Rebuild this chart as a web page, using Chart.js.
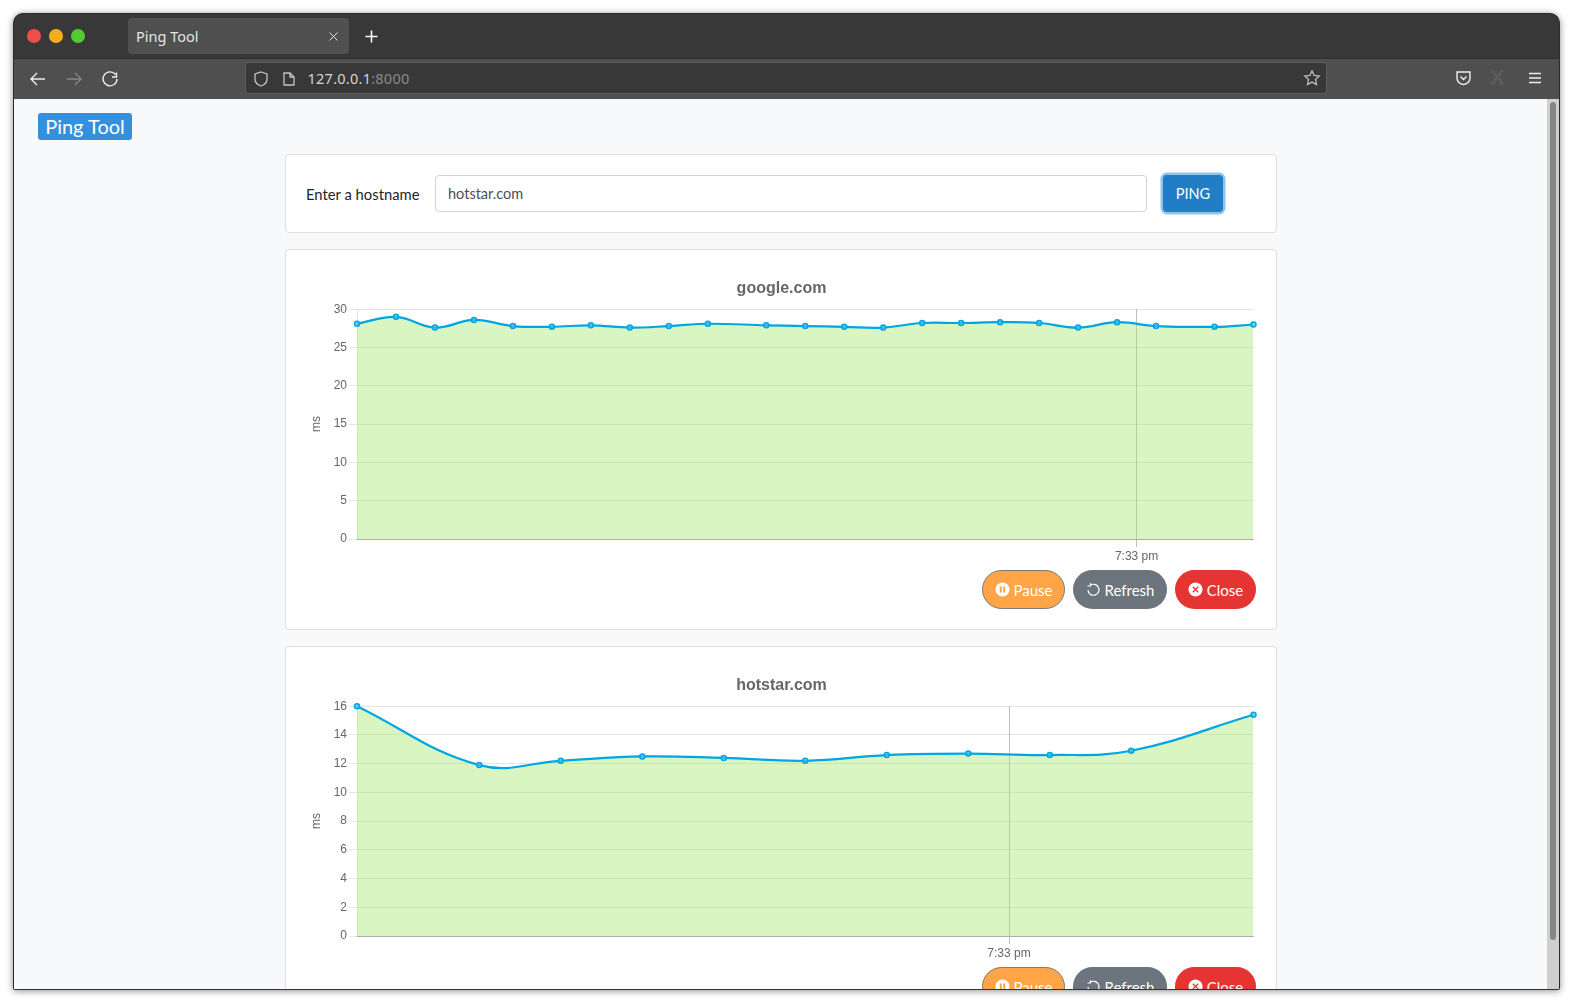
<!DOCTYPE html>
<html><head><meta charset="utf-8"><title>Ping Tool</title>
<script src="https://cdn.jsdelivr.net/npm/chart.js@4"></script>
<style>
html,body{margin:0;padding:0;width:1573px;height:1003px;overflow:hidden;background:#fff;font-family:Lato,"Noto Sans",sans-serif}
.abs,.abs *{box-sizing:border-box}
.abs{position:absolute}
#win{left:13px;top:13px;width:1547px;height:977px;border-radius:10px 10px 2px 2px;background:#383838;box-shadow:0 1px 7px rgba(0,0,0,.45);overflow:hidden;border:1px solid #2b2b2b;border-bottom:1px solid #333}
.dot{width:14px;height:14px;border-radius:50%}
.ui{font-family:"Noto Sans",sans-serif}
#content{left:14px;top:99px;width:1545px;height:890px;overflow:hidden;background:#f8f9fb}
#inner{left:-14px;top:-99px;width:1573px;height:1200px}
.card{background:#fff;border:1px solid #dfdfe1;border-radius:4px;left:285px;width:992px}
.btn{height:39px;border-radius:20px;color:#fff;font-size:15px;display:flex;align-items:center;justify-content:center;gap:4px}
.btn svg{flex:none}
canvas{position:absolute;display:block}
</style></head><body>
<div class="abs" id="win"></div>
<div class="abs" style="left:14px;top:58px;width:1545px;height:41px;background:#4f4f4f;border-top:1px solid #2d2d2d"></div>
<div class="abs dot" style="left:27px;top:29px;background:#ee5047"></div>
<div class="abs dot" style="left:49px;top:29px;background:#f2ae1c"></div>
<div class="abs dot" style="left:71px;top:29px;background:#55cb33"></div>
<div class="abs" style="left:128px;top:18px;width:221px;height:36px;border-radius:4px;background:#505050"></div>
<div class="abs ui" style="left:136px;top:26px;color:#e4e4e4;font-size:14.5px;line-height:20px">Ping Tool</div>
<svg class="abs" style="left:327.500px;top:31px" width="11" height="11"><path d="M1.500 1.500l8 8M9.500 1.500l-8 8" stroke="#ddd" stroke-width="1"/></svg>
<svg class="abs" style="left:364px;top:29px" width="15" height="15"><path d="M7.500 1.500v12M1.500 7.500h12" stroke="#fff" stroke-width="1.600"/></svg>
<svg class="abs" style="left:28px;top:69px" width="20" height="20" fill="none" stroke="#eee" stroke-width="1.400"><path d="M3 10h14M9 4l-6 6 6 6"/></svg>
<svg class="abs" style="left:64px;top:69px" width="20" height="20" fill="none" stroke="#858585" stroke-width="1.400"><path d="M3 10h14M11 4l6 6-6 6"/></svg>
<svg class="abs" style="left:100px;top:69px" width="20" height="20" fill="none" stroke="#eee" stroke-width="1.400"><path d="M15.500 5.500A7 7 0 1 0 17 10M16.500 3.500v4.500h-4.500"/></svg>
<div class="abs" style="left:245px;top:62px;width:1082px;height:32px;border-radius:3px;background:#383838;border:1px solid #5e5e5e"></div>
<svg class="abs" style="left:252px;top:70px" width="18" height="18" fill="none" stroke="#c4c4c4" stroke-width="1.300"><path d="M9 2l6 2v5c0 4-3 6-6 7-3-1-6-3-6-7V4z"/></svg>
<svg class="abs" style="left:282px;top:71px" width="14" height="16" fill="none" stroke="#c4c4c4" stroke-width="1.300"><path d="M2 2h6l4 4v8H2zM8 2v4h4"/></svg>
<div class="abs ui" style="left:307.500px;top:68px;font-size:14.500px;line-height:20px;color:#d4d4d4;letter-spacing:.25px">127.0.0.1<span style="color:#8a8a8a">:8000</span></div>
<svg class="abs" style="left:1303px;top:69px" width="18" height="18" fill="none" stroke="#bdbdbd" stroke-width="1.300"><path d="M9 1.800l2.200 4.700 5 .6-3.700 3.500 1 5L9 13.100l-4.500 2.500 1-5L1.800 7.100l5-.6z"/></svg>
<svg class="abs" style="left:1455px;top:70px" width="17" height="16" fill="none" stroke="#eee" stroke-width="1.400"><path d="M2 2h13v6a6.500 6.500 0 0 1-13 0zM5.500 6.500L8.500 9.500l3-3"/></svg>
<div class="abs" style="left:1490px;top:64px;color:#5c5c5c;font-size:22px;line-height:28px;font-family:'Liberation Sans';font-weight:bold">X</div>
<svg class="abs" style="left:1528px;top:72px" width="14" height="12" stroke="#eee" stroke-width="1.300"><path d="M1 1.500h12M1 6h12M1 10.500h12"/></svg>

<div class="abs" id="content"><div class="abs" id="inner">
  <div class="abs" style="left:38px;top:113px;width:94px;height:27px;border-radius:3px;background:#3490dc;color:#fff;font-size:20px;line-height:26px;text-align:center">Ping Tool</div>

  <div class="abs card" style="top:154px;height:79px"></div>
  <div class="abs" style="left:306px;top:183.500px;font-size:14.800px;line-height:20px;color:#212529">Enter a hostname</div>
  <div class="abs" style="left:435px;top:175px;width:712px;height:37px;background:#fff;border:1px solid #ced4da;border-radius:4px;color:#495057;font-size:14.500px;line-height:36px;padding-left:12px">hotstar.com</div>
  <div class="abs" style="left:1163px;top:175px;width:60px;height:37px;border-radius:4px;background:#227dc7;box-shadow:0 0 0 2.500px #8fc3ec;color:#fff;font-size:14.500px;line-height:37px;text-align:center">PING</div>

  <div class="abs card" style="top:249px;height:381px"></div>
  <canvas id="chartA" style="left:308px;top:271px"></canvas>
  <div class="abs btn" style="left:982px;top:570px;width:83px;background:#ffa447;border:1px solid #7b7b6f"><svg width="15" height="15"><circle cx="7.500" cy="7.500" r="7" fill="#fff"/><path d="M5.800 4.500v6M9.200 4.500v6" stroke="#ffa447" stroke-width="2"/></svg>Pause</div>
  <div class="abs btn" style="left:1073px;top:570px;width:94px;background:#6c757d"><svg width="15" height="15" fill="none" stroke="#fff" stroke-width="1.200"><path d="M4 3.500A5.500 5.500 0 1 1 2 8M4.500 1v3H1.500"/></svg>Refresh</div>
  <div class="abs btn" style="left:1175px;top:570px;width:81px;background:#e53431"><svg width="15" height="15"><circle cx="7.500" cy="7.500" r="7" fill="#fff"/><path d="M4.800 4.800l5.400 5.400M10.200 4.800l-5.400 5.400" stroke="#e53431" stroke-width="1.300"/></svg>Close</div>

  <div class="abs card" style="top:646px;height:400px"></div>
  <canvas id="chartB" style="left:308px;top:668px"></canvas>
  <div class="abs btn" style="left:982px;top:967px;width:83px;background:#ffa447;border:1px solid #7b7b6f"><svg width="15" height="15"><circle cx="7.500" cy="7.500" r="7" fill="#fff"/><path d="M5.800 4.500v6M9.200 4.500v6" stroke="#ffa447" stroke-width="2"/></svg>Pause</div>
  <div class="abs btn" style="left:1073px;top:967px;width:94px;background:#6c757d"><svg width="15" height="15" fill="none" stroke="#fff" stroke-width="1.200"><path d="M4 3.500A5.500 5.500 0 1 1 2 8M4.500 1v3H1.500"/></svg>Refresh</div>
  <div class="abs btn" style="left:1175px;top:967px;width:81px;background:#e53431"><svg width="15" height="15"><circle cx="7.500" cy="7.500" r="7" fill="#fff"/><path d="M4.800 4.800l5.400 5.400M10.200 4.800l-5.400 5.400" stroke="#e53431" stroke-width="1.300"/></svg>Close</div>
</div></div>
<div class="abs" style="left:1547px;top:99px;width:12px;height:890px;background:#cfcfcf"></div>
<div class="abs" style="left:1550px;top:102px;width:6px;height:838px;border-radius:3px;background:#858787"></div>

<script>
const googleSeconds = [0,5,10,15,20,25,30,35,40,45,52.5,57.5,62.5,67.5,72.5,77.5,82.5,87.5,92.5,97.5,102.5,110,115];
const googleMs = [28.1,29.0,27.6,28.6,27.8,27.7,27.9,27.6,27.8,28.1,27.9,27.8,27.7,27.6,28.2,28.2,28.3,28.2,27.6,28.3,27.8,27.7,28.0];
const hotstarSeconds = [0,15,25,35,45,55,65,75,85,95,110];
const hotstarMs = [16.0,11.9,12.2,12.5,12.4,12.2,12.6,12.7,12.6,12.9,15.4];
const googleTickSecond = 100;
const hotstarTickSecond = 80;
const timeLabel = '7:33 pm';
const axisUnit = 'ms';

Chart.defaults.font.family = '"Liberation Sans", Arial, sans-serif';
Chart.defaults.font.size = 12;
Chart.defaults.color = '#666';
Chart.defaults.animation = false;

function pingChart(id, title, xs, ys, tickAt, yMax, yStep) {
  new Chart(document.getElementById(id), {
    type: 'line',
    data: { datasets: [{
      data: xs.map((x, i) => ({ x, y: ys[i] })),
      borderColor: '#00a5e3', borderWidth: 2.2,
      backgroundColor: 'rgba(160,230,100,0.4)', fill: 'origin',
      tension: 0.4, clip: false,
      pointRadius: 2.5, pointBorderWidth: 1.5,
      pointBackgroundColor: 'rgba(80,195,240,0.7)', pointBorderColor: '#00a5e3'
    }]},
    options: {
      responsive: false, devicePixelRatio: 1,
      layout: { padding: { right: 4, left: 0, top: 0, bottom: 0 } },
      plugins: {
        legend: { display: false }, tooltip: { enabled: false },
        title: { display: true, text: title, color: '#666',
          font: { size: 16, weight: 'bold' }, padding: { top: 8, bottom: 11 } }
      },
      scales: {
        x: {
          type: 'linear', min: xs[0], max: xs[xs.length - 1],
          afterBuildTicks: s => { s.ticks = [{ value: tickAt }]; },
          afterFit: s => { s.height = 30; },
          ticks: { callback: () => timeLabel, maxRotation: 0, autoSkip: false, padding: 2, color: '#666' },
          grid: { color: 'rgba(0,0,0,0.25)', tickLength: 8, lineWidth: 1 },
          border: { color: 'rgba(0,0,0,0.25)' }
        },
        y: {
          min: 0, max: yMax,
          afterFit: s => { s.width = 49; },
          title: { display: true, text: axisUnit, color: '#666', padding: { top: 1, bottom: 0 } },
          ticks: { stepSize: yStep, padding: 2, color: '#666' },
          grid: { color: 'rgba(0,0,0,0.1)', tickLength: 8 },
          border: { color: 'rgba(0,0,0,0.1)' }
        }
      }
    }
  });
}
function size(id){ const c=document.getElementById(id); c.width=951; c.height=298; c.style.width='951px'; c.style.height='298px'; }
size('chartA'); size('chartB');
pingChart('chartA', 'google.com', googleSeconds, googleMs, googleTickSecond, 30, 5);
pingChart('chartB', 'hotstar.com', hotstarSeconds, hotstarMs, hotstarTickSecond, 16, 2);
</script>
</body></html>
